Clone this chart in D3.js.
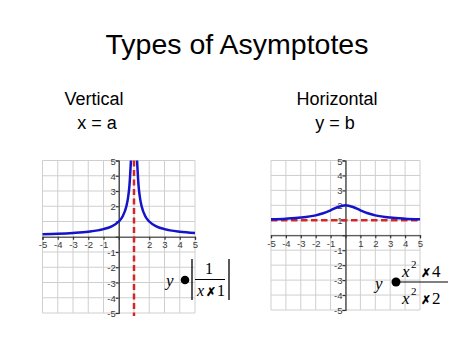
<!DOCTYPE html>
<html>
<head>
<meta charset="utf-8">
<script src="https://cdn.jsdelivr.net/npm/d3@7"></script>
<style>
  body { margin: 0; background: #fff; }
  svg text { font-family: "Liberation Sans", Arial, sans-serif; }
</style>
</head>
<body>
<div id="chart"></div>
<script>
// grid / tick values shared by both panels
var gridValues = [-5, -4, -3, -2, -1, 0, 1, 2, 3, 4, 5];
var leftXLabels = [-5, -4, -3, -2, -1, 2, 3, 4, 5];
var leftYLabels = [5, 4, 3, 2, -1, -2, -3, -4, -5];
var rightXLabels = [-5, -4, -3, -2, -1, 1, 2, 3, 4, 5];
var rightYLabels = [5, 4, 3, 2, 1, -1, -2, -3, -4, -5];

// points (two branches around x = 1)
var vLeftX = [-5, -4, -3, -2, -1, -0.5, 0, 0.25, 0.5, 0.6, 0.7, 0.8];
var vLeftY = [0.17, 0.2, 0.25, 0.33, 0.5, 0.67, 1, 1.33, 2, 2.5, 3.33, 5];
var vRightX = [1.2, 1.3, 1.4, 1.5, 1.75, 2, 2.5, 3, 4, 5];
var vRightY = [5, 3.33, 2.5, 2, 1.33, 1, 0.67, 0.5, 0.33, 0.25];
var vAsymptote = 1;

// points
var hX = [-5, -4, -3, -2, -1.5, -1, -0.5, 0, 0.5, 1, 1.5, 2, 3, 4, 5];
var hY = [1.07, 1.11, 1.18, 1.33, 1.47, 1.67, 1.89, 2, 1.89, 1.67, 1.47, 1.33, 1.18, 1.11, 1.07];
var hAsymptote = 1;

var width = 474, height = 355;
var svg = d3.select("#chart").append("svg")
    .attr("width", width)
    .attr("height", height);

// title and headings
svg.append("text")
    .attr("x", 237).attr("y", 54)
    .attr("text-anchor", "middle")
    .style("font-size", "28.5px")
    .text("Types of Asymptotes");

var headings = [
  {t: "Vertical", x: 94, y: 105},
  {t: "x = a", x: 97, y: 129},
  {t: "Horizontal", x: 337, y: 105},
  {t: "y = b", x: 335, y: 129}
];
svg.selectAll(".head").data(headings).enter().append("text")
    .attr("class", "head")
    .attr("x", function(d) { return d.x; })
    .attr("y", function(d) { return d.y; })
    .attr("text-anchor", "middle")
    .style("font-size", "18px")
    .text(function(d) { return d.t; });

function drawPanel(box, xLabels, yLabels) {
  var x = d3.scaleLinear().domain([-5, 5]).range([box.left, box.right]);
  var y = d3.scaleLinear().domain([-5, 5]).range([box.bottom, box.top]);
  var g = svg.append("g");

  // grid
  g.selectAll(".vg").data(gridValues).enter().append("line")
      .attr("x1", function(d) { return x(d); }).attr("x2", function(d) { return x(d); })
      .attr("y1", y(-5)).attr("y2", y(5))
      .attr("stroke", "#cfcfcf").attr("stroke-width", 1);
  g.selectAll(".hg").data(gridValues).enter().append("line")
      .attr("y1", function(d) { return y(d); }).attr("y2", function(d) { return y(d); })
      .attr("x1", x(-5)).attr("x2", x(5))
      .attr("stroke", "#cfcfcf").attr("stroke-width", 1);

  // axes through the origin
  var xAxis = d3.axisBottom(x).tickValues(gridValues).tickSize(3).tickFormat("");
  var yAxis = d3.axisLeft(y).tickValues(gridValues).tickSize(3).tickFormat("");
  g.append("g").attr("transform", "translate(0," + y(0) + ")").call(xAxis)
    .call(function(s) { s.selectAll("path, line").attr("stroke", "#333").attr("stroke-width", 1.2); });
  g.append("g").attr("transform", "translate(" + x(0) + ",0)").call(yAxis)
    .call(function(s) { s.selectAll("path, line").attr("stroke", "#333").attr("stroke-width", 1.2); });

  // tick labels
  g.selectAll(".xl").data(xLabels).enter().append("text")
      .attr("x", function(d) { return x(d) + 0.5; })
      .attr("y", y(0) + 11.5)
      .attr("text-anchor", "middle")
      .style("font-size", "9.5px").style("fill", "#3a3a3a")
      .text(function(d) { return d; });
  g.selectAll(".yl").data(yLabels).enter().append("text")
      .attr("x", x(0) - 3)
      .attr("y", function(d) { return y(d) + 4; })
      .attr("text-anchor", "end")
      .style("font-size", "9.5px").style("fill", "#3a3a3a")
      .text(function(d) { return d; });

  return {x: x, y: y, g: g};
}

var blue = "#1414c8", red = "#d42626";

// left panel: vertical asymptote
var L = drawPanel({left: 42.5, right: 195, top: 160.5, bottom: 313}, leftXLabels, leftYLabels);
var lineL = d3.line().x(function(d) { return L.x(d[0]); }).y(function(d) { return L.y(d[1]); })
    .curve(d3.curveMonotoneX);
L.g.append("line")
    .attr("x1", L.x(vAsymptote)).attr("x2", L.x(vAsymptote))
    .attr("y1", L.y(5)).attr("y2", L.y(-5) + 3)
    .attr("stroke", red).attr("stroke-width", 2.5).attr("stroke-dasharray", "6,3.5");
[[vLeftX, vLeftY], [vRightX, vRightY]].forEach(function(b) {
  L.g.append("path")
      .datum(d3.zip(b[0], b[1]))
      .attr("d", lineL)
      .attr("fill", "none").attr("stroke", blue).attr("stroke-width", 2.5);
});

// right panel: horizontal asymptote
var R = drawPanel({left: 271, right: 420, top: 160.5, bottom: 310}, rightXLabels, rightYLabels);
var lineR = d3.line().x(function(d) { return R.x(d[0]); }).y(function(d) { return R.y(d[1]); })
    .curve(d3.curveMonotoneX);
R.g.append("line")
    .attr("x1", R.x(-5)).attr("x2", R.x(5))
    .attr("y1", R.y(hAsymptote)).attr("y2", R.y(hAsymptote))
    .attr("stroke", red).attr("stroke-width", 2.5).attr("stroke-dasharray", "6.5,3.5");
R.g.append("path")
    .datum(d3.zip(hX, hY))
    .attr("d", lineR)
    .attr("fill", "none").attr("stroke", blue).attr("stroke-width", 2.5);

// formula labels (serif, as in the original slide)
var serif = "'Liberation Serif', 'Times New Roman', serif";
function mtext(x, y, t, size, italic, anchor) {
  return svg.append("text").attr("x", x).attr("y", y)
      .attr("text-anchor", anchor || "start")
      .style("font-family", serif)
      .style("font-size", size + "px")
      .style("font-style", italic ? "italic" : "normal")
      .text(t);
}

// y = |1 / (x - 1)|
mtext(166, 286, "y", 17, true);
svg.append("circle").attr("cx", 185).attr("cy", 280).attr("r", 4.3).attr("fill", "#000");
svg.append("line").attr("x1", 192).attr("x2", 192).attr("y1", 259).attr("y2", 300).attr("stroke", "#000").attr("stroke-width", 1.3);
svg.append("line").attr("x1", 229).attr("x2", 229).attr("y1", 259).attr("y2", 300).attr("stroke", "#000").attr("stroke-width", 1.3);
svg.append("line").attr("x1", 195).attr("x2", 225).attr("y1", 279.5).attr("y2", 279.5).attr("stroke", "#000").attr("stroke-width", 1);
mtext(209, 274, "1", 16, false, "middle");
mtext(197, 296, "x", 16, true);
mtext(206, 296, "\u2717", 12, false).style("font-weight", "bold");
mtext(217, 296, "1", 16, false);

// y = (x^2 + 4) / (x^2 + 2)
mtext(375, 289, "y", 17, true);
svg.append("circle").attr("cx", 396).attr("cy", 282).attr("r", 4.5).attr("fill", "#000");
svg.append("line").attr("x1", 400).attr("x2", 448).attr("y1", 282).attr("y2", 282).attr("stroke", "#000").attr("stroke-width", 1);
mtext(402, 277, "x", 17, true);
mtext(411, 268, "2", 11, false);
mtext(421, 277, "\u2717", 12, false).style("font-weight", "bold");
mtext(432, 277, "4", 17, false);
mtext(402, 304, "x", 17, true);
mtext(411, 295, "2", 11, false);
mtext(421, 304, "\u2717", 12, false).style("font-weight", "bold");
mtext(432, 304, "2", 17, false);
</script>
</body>
</html>
